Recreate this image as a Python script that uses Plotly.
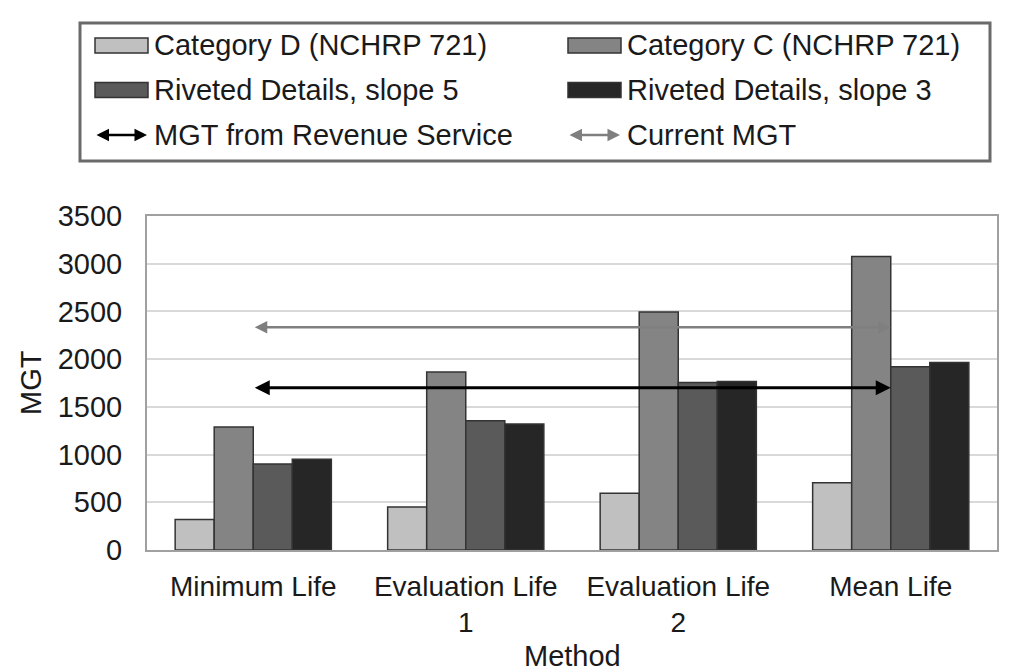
import plotly.graph_objects as go

# ---- data ----
methods = ["Minimum Life", "Evaluation Life<br>1", "Evaluation Life<br>2", "Mean Life"]
cat_d = [320, 450, 595, 705]
cat_c = [1290, 1865, 2495, 3075]
riveted_5 = [900, 1355, 1755, 1920]
riveted_3 = [950, 1320, 1765, 1965]
mgt_revenue = 1700
mgt_current = 2335
y_ticks = [0, 500, 1000, 1500, 2000, 2500, 3000, 3500]

series_names = ["Category D (NCHRP 721)", "Category C (NCHRP 721)",
                "Riveted Details, slope 5", "Riveted Details, slope 3"]
series_vals = [cat_d, cat_c, riveted_5, riveted_3]
series_cols = ["#c0c0c0", "#848484", "#5a5a5a", "#262626"]

FONT = "Liberation Sans, Arial, sans-serif"
TXT = "#1a1a1a"
W, H = 1023, 671
L, R, T, B = 147, 26, 216, 121
PW, PH = W - L - R, H - T - B

def px(x):
    return (x - L) / PW

def py(y):
    return (H - B - y) / PH

fig = go.Figure()
for name, vals, col in zip(series_names, series_vals, series_cols):
    fig.add_trace(go.Bar(x=methods, y=vals, name=name, showlegend=False,
                         marker=dict(color=col, line=dict(color="#333333", width=1.5))))

annotations = []
shapes = []

# chart arrows (from first to last category)
for val, col, w in [(mgt_current, "#7f7f7f", 2.5), (mgt_revenue, "#000000", 3)]:
    annotations.append(dict(x=3, y=val, ax=0, ay=val, xref="x", yref="y", axref="x", ayref="y",
                            showarrow=True, arrowhead=2, startarrowhead=2, arrowside="end+start",
                            arrowsize=1, startarrowsize=1, arrowwidth=w, arrowcolor=col, text=""))

# legend box
shapes.append(dict(type="rect", xref="paper", yref="paper", x0=px(80), x1=px(990),
                   y0=py(161), y1=py(23), line=dict(color="#6a6a6a", width=3), fillcolor="white", layer="below"))

rows_y = [45.5, 90, 135]
col_x = [95, 568]
text_x = [152, 625]
items = [(0, 0, 0), (0, 1, 1), (1, 0, 2), (1, 1, 3)]
for r, c, i in items:
    yc = rows_y[r]
    shapes.append(dict(type="rect", xref="paper", yref="paper", x0=px(col_x[c]), x1=px(col_x[c] + 53),
                       y0=py(yc + 7.5), y1=py(yc - 7.5), fillcolor=series_cols[i],
                       line=dict(color="#333333", width=1.5)))
    annotations.append(dict(x=px(text_x[c]), y=py(yc), xref="paper", yref="paper", text=series_names[i],
                            showarrow=False, xanchor="left", yanchor="middle",
                            font=dict(size=29, color=TXT, family=FONT)))

arrow_items = [("MGT from Revenue Service", "#000000", 0), ("Current MGT", "#7f7f7f", 1)]
for name, col, c in arrow_items:
    yc = rows_y[2]
    annotations.append(dict(x=px(col_x[c] + 52), y=py(yc), xref="paper", yref="paper",
                            ax=-52, ay=0, showarrow=True, arrowhead=2, startarrowhead=2,
                            arrowside="end+start", arrowwidth=2.5, arrowcolor=col, text=""))
    annotations.append(dict(x=px(text_x[c]), y=py(yc), xref="paper", yref="paper", text=name,
                            showarrow=False, xanchor="left", yanchor="middle",
                            font=dict(size=29, color=TXT, family=FONT)))

# axis titles
annotations.append(dict(x=px(31), y=0.5, xref="paper", yref="paper", text="MGT", textangle=-90,
                        showarrow=False, xanchor="center", yanchor="middle",
                        font=dict(size=29, color=TXT, family=FONT)))
annotations.append(dict(x=0.5, y=py(656), xref="paper", yref="paper", text="Method",
                        showarrow=False, xanchor="center", yanchor="middle",
                        font=dict(size=29, color=TXT, family=FONT)))

fig.update_layout(
    width=W, height=H,
    margin=dict(l=L, r=R, t=T, b=B, autoexpand=False),
    paper_bgcolor="white", plot_bgcolor="white",
    barmode="group", bargap=0.265, bargroupgap=0,
    font=dict(family=FONT, size=29, color=TXT),
    annotations=annotations, shapes=shapes,
    showlegend=False,
)
fig.update_xaxes(type="category", showline=True, linecolor="#a0a0a0", linewidth=2, mirror=True,
                 ticks="outside", ticklen=10, tickcolor="rgba(0,0,0,0)",
                 tickfont=dict(size=28, family=FONT, color=TXT), automargin=False)
fig.update_yaxes(range=[0, 3500], tickvals=y_ticks, showgrid=True, gridcolor="#d9d9d9", gridwidth=2,
                 showline=True, linecolor="#a0a0a0", linewidth=2, mirror=True, zeroline=False,
                 ticks="outside", ticklen=17, tickcolor="rgba(0,0,0,0)",
                 tickfont=dict(size=29, family=FONT, color=TXT), automargin=False)

fig.write_html("out.html")
